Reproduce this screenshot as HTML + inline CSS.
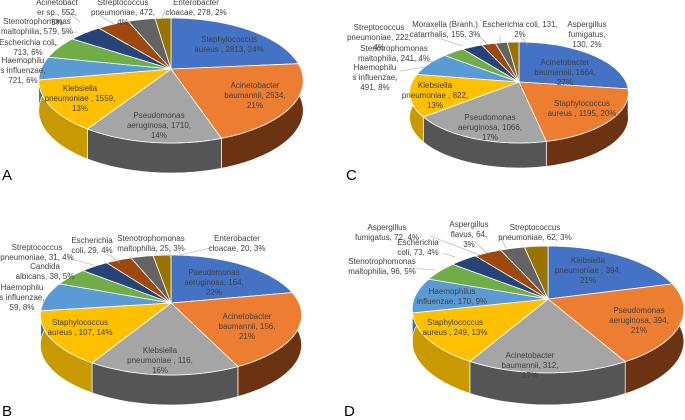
<!DOCTYPE html>
<html><head><meta charset="utf-8"><style>
html,body{margin:0;padding:0;background:#fff;}
svg{display:block;font-family:"Liberation Sans",sans-serif;}
.l{font-size:8px;fill:#404040;text-anchor:middle;}
.p{font-size:15px;fill:#000;}
</style></head><body>
<svg id="fig" width="685" height="420" viewBox="0 0 685 420">
<g id="pies"></g>
<g id="leaders" stroke="#a6a6a6" stroke-width="0.6" fill="none">
<line x1="68" y1="12" x2="80" y2="22"/><line x1="98" y1="14" x2="115" y2="25"/><line x1="165" y1="10" x2="162" y2="18"/>
<line x1="63" y1="33" x2="78" y2="32"/><line x1="52" y1="44" x2="58" y2="46"/>
<line x1="438" y1="38" x2="463" y2="46"/><line x1="480" y1="37" x2="488" y2="45"/><line x1="500" y1="36" x2="500" y2="43"/><line x1="520" y1="36" x2="528" y2="45"/>
<line x1="405" y1="60" x2="440" y2="62"/><line x1="400" y1="71" x2="425" y2="67"/>
<line x1="68" y1="258" x2="93" y2="265"/><line x1="68" y1="272" x2="70" y2="275"/><line x1="110" y1="255" x2="120" y2="263"/><line x1="170" y1="250" x2="170" y2="258"/><line x1="215" y1="247" x2="180" y2="255"/>
<line x1="430" y1="236" x2="480" y2="255"/><line x1="443" y1="253" x2="455" y2="257"/><line x1="474" y1="241" x2="487" y2="253"/><line x1="500" y1="236" x2="506" y2="248"/><line x1="410" y1="268" x2="436" y2="270"/>
</g>
<g id="labels">
<text class="l" x="229" y="42"><tspan x="229">Staphylococcus</tspan><tspan x="229" dy="10">aureus , 2813, 24%</tspan></text>
<text class="l" x="255" y="88"><tspan x="255">Acinetobacter</tspan><tspan x="255" dy="10">baumannii, 2534,</tspan><tspan x="255" dy="10">21%</tspan></text>
<text class="l" x="159" y="118"><tspan x="159">Pseudomonas</tspan><tspan x="159" dy="10">aeruginosa, 1710,</tspan><tspan x="159" dy="10">14%</tspan></text>
<text class="l" x="80" y="91"><tspan x="80">Klebsiella</tspan><tspan x="80" dy="10">pneumoniae , 1559,</tspan><tspan x="80" dy="10">13%</tspan></text>
<text class="l" x="23" y="63"><tspan x="23">Haemophilu</tspan><tspan x="23" dy="10">s influenzae,</tspan><tspan x="23" dy="10">721, 6%</tspan></text>
<text class="l" x="28" y="45"><tspan x="28">Escherichia coli,</tspan><tspan x="28" dy="10">713, 6%</tspan></text>
<text class="l" x="37" y="24"><tspan x="37">Stenotrophomonas</tspan><tspan x="37" dy="10">maltophilia, 579, 5%</tspan></text>
<text class="l" x="57" y="5"><tspan x="57">Acinetobact</tspan><tspan x="57" dy="10">er sp., 552,</tspan><tspan x="57" dy="10">5%</tspan></text>
<text class="l" x="123" y="5"><tspan x="123">Streptococcus</tspan><tspan x="123" dy="10">pneumoniae, 472,</tspan><tspan x="123" dy="10">4%</tspan></text>
<text class="l" x="196" y="5"><tspan x="196">Enterobacter</tspan><tspan x="196" dy="10">cloacae, 278, 2%</tspan></text>

<text class="l" x="565" y="65"><tspan x="565">Acinetobacter</tspan><tspan x="565" dy="10">baumannii, 1664,</tspan><tspan x="565" dy="10">27%</tspan></text>
<text class="l" x="582" y="106"><tspan x="582">Staphylococcus</tspan><tspan x="582" dy="10">aureus , 1195, 20%</tspan></text>
<text class="l" x="490" y="120"><tspan x="490">Pseudomonas</tspan><tspan x="490" dy="10">aeruginosa, 1066,</tspan><tspan x="490" dy="10">17%</tspan></text>
<text class="l" x="435" y="88"><tspan x="435">Klebsiella</tspan><tspan x="435" dy="10">pneumoniae , 822,</tspan><tspan x="435" dy="10">13%</tspan></text>
<text class="l" x="375" y="70"><tspan x="375">Haemophilu</tspan><tspan x="375" dy="10">s influenzae,</tspan><tspan x="375" dy="10">491, 8%</tspan></text>
<text class="l" x="394" y="51"><tspan x="394">Stenotrophomonas</tspan><tspan x="394" dy="10">maltophilia, 241, 4%</tspan></text>
<text class="l" x="379" y="30"><tspan x="379">Streptococcus</tspan><tspan x="379" dy="10">pneumoniae, 222,</tspan><tspan x="379" dy="10">4%</tspan></text>
<text class="l" x="445" y="27"><tspan x="445">Moraxella (Branh.)</tspan><tspan x="445" dy="10">catarrhalis, 155, 3%</tspan></text>
<text class="l" x="520" y="27"><tspan x="520">Escherichia coli, 131,</tspan><tspan x="520" dy="10">2%</tspan></text>
<text class="l" x="587" y="27"><tspan x="587">Aspergillus</tspan><tspan x="587" dy="10">fumigatus,</tspan><tspan x="587" dy="10">130, 2%</tspan></text>

<text class="l" x="214" y="275"><tspan x="214">Pseudomonas</tspan><tspan x="214" dy="10">aeruginosa, 164,</tspan><tspan x="214" dy="10">22%</tspan></text>
<text class="l" x="247" y="319"><tspan x="247">Acinetobacter</tspan><tspan x="247" dy="10">baumannii, 156,</tspan><tspan x="247" dy="10">21%</tspan></text>
<text class="l" x="160" y="353"><tspan x="160">Klebsiella</tspan><tspan x="160" dy="10">pneumoniae , 116,</tspan><tspan x="160" dy="10">16%</tspan></text>
<text class="l" x="80" y="325"><tspan x="80">Staphylococcus</tspan><tspan x="80" dy="10">aureus , 107, 14%</tspan></text>
<text class="l" x="22" y="290"><tspan x="22">Haemophilu</tspan><tspan x="22" dy="10">s influenzae,</tspan><tspan x="22" dy="10">59, 8%</tspan></text>
<text class="l" x="45" y="269"><tspan x="45">Candida</tspan><tspan x="45" dy="10">albicans, 38, 5%</tspan></text>
<text class="l" x="37" y="250"><tspan x="37">Streptococcus</tspan><tspan x="37" dy="10">pneumoniae, 31, 4%</tspan></text>
<text class="l" x="92" y="243"><tspan x="92">Escherichia</tspan><tspan x="92" dy="10">coli, 29, 4%</tspan></text>
<text class="l" x="151" y="241"><tspan x="151">Stenotrophomonas</tspan><tspan x="151" dy="10">maltophilia, 25, 3%</tspan></text>
<text class="l" x="237" y="241"><tspan x="237">Enterobacter</tspan><tspan x="237" dy="10">cloacae, 20, 3%</tspan></text>

<text class="l" x="588" y="263"><tspan x="588">Klebsiella</tspan><tspan x="588" dy="10">pneumoniae , 394,</tspan><tspan x="588" dy="10">21%</tspan></text>
<text class="l" x="639" y="313"><tspan x="639">Pseudomonas</tspan><tspan x="639" dy="10">aeruginosa, 394,</tspan><tspan x="639" dy="10">21%</tspan></text>
<text class="l" x="530" y="358"><tspan x="530">Acinetobacter</tspan><tspan x="530" dy="10">baumannii, 312,</tspan><tspan x="530" dy="10">17%</tspan></text>
<text class="l" x="455" y="325"><tspan x="455">Staphylococcus</tspan><tspan x="455" dy="10">aureus , 249, 13%</tspan></text>
<text class="l" x="452" y="294"><tspan x="452">Haemophilus</tspan><tspan x="452" dy="10">influenzae, 170, 9%</tspan></text>
<text class="l" x="382" y="264"><tspan x="382">Stenotrophomonas</tspan><tspan x="382" dy="10">maltophilia, 96, 5%</tspan></text>
<text class="l" x="418" y="245"><tspan x="418">Escherichia</tspan><tspan x="418" dy="10">coli, 73, 4%</tspan></text>
<text class="l" x="387" y="230"><tspan x="387">Aspergillus</tspan><tspan x="387" dy="10">fumigatus, 72, 4%</tspan></text>
<text class="l" x="469" y="227"><tspan x="469">Aspergillus</tspan><tspan x="469" dy="10">flavus, 64,</tspan><tspan x="469" dy="10">3%</tspan></text>
<text class="l" x="535" y="230"><tspan x="535">Streptococcus</tspan><tspan x="535" dy="10">pneumoniae, 62, 3%</tspan></text>
</g>
<text class="p" x="2" y="180">A</text>
<text class="p" x="346" y="180">C</text>
<text class="p" x="2" y="416">B</text>
<text class="p" x="344" y="416">D</text>
</svg>
<script>
const valuesA = [2813, 2534, 1710, 1559, 721, 713, 579, 552, 472, 278];
const valuesB = [164, 156, 116, 107, 59, 38, 31, 29, 25, 20];
const valuesC = [1664, 1195, 1066, 822, 491, 241, 222, 155, 131, 130];
const valuesD = [394, 394, 312, 249, 170, 96, 73, 72, 64, 62];
const colors = ['#4472C4','#ED7D31','#A5A5A5','#FFC000','#5B9BD5','#70AD47','#264478','#9E480E','#636363','#997300'];
const sideColors = ['#2c4d8a','#6b3312','#555555','#c99a00','#3a6f9e','#4a7a2c','#182d50','#6a300a','#404040','#6b5100'];
const layouts = [
  {name:'a', vals:valuesA, cx:171, cy:69, rx:130, h:60.4, k:0.184, d:30},
  {name:'b', vals:valuesB, cx:171, cy:303, rx:128, h:57.6, k:0.2, d:30},
  {name:'c', vals:valuesC, cx:519, cy:82, rx:107, h:48.3, k:0.208, d:25},
  {name:'d', vals:valuesD, cx:548, cy:299, rx:134, h:61.7, k:0.165, d:32}
];
const NS = 'http://www.w3.org/2000/svg';
const root = document.getElementById('pies');
function pt(L, a, dy){
  const u = Math.sin(a), v = -Math.cos(a);
  const w = 1 - L.k*v;
  return [L.cx + L.rx*u/w, L.cy + L.h*v/w + (dy||0)];
}
layouts.forEach(L => {
  const g = document.createElementNS(NS,'g');
  
  
  root.appendChild(g);
  const total = L.vals.reduce((s,v)=>s+v,0);
  let acc = 0;
  const slices = L.vals.map(v => { const a1 = acc/total*2*Math.PI; acc += v; return [a1, acc/total*2*Math.PI]; });
  const lo0 = Math.PI/2 - 0.2, hi0 = 3*Math.PI/2 + 0.2;
  slices.forEach((s,i) => {
    const lo = Math.max(s[0], lo0), hi = Math.min(s[1], hi0);
    if (hi <= lo) return;
    let dd = '';
    const n = 30;
    for (let k=0;k<=n;k++){ const p = pt(L, lo+(hi-lo)*k/n); dd += (k?'L':'M')+p[0].toFixed(1)+','+p[1].toFixed(1); }
    for (let k=n;k>=0;k--){ const p = pt(L, lo+(hi-lo)*k/n, L.d); dd += 'L'+p[0].toFixed(1)+','+p[1].toFixed(1); }
    const path = document.createElementNS(NS,'path');
    path.setAttribute('d', dd+'Z');
    path.setAttribute('fill', sideColors[i]);
    path.setAttribute('stroke', '#fff');
    path.setAttribute('stroke-width', '0.7');
    
    
    g.appendChild(path);
  });
  slices.forEach((s,i) => {
    let dd = 'M'+L.cx+','+L.cy;
    const n = Math.max(4, Math.ceil((s[1]-s[0])*30));
    for (let k=0;k<=n;k++){ const p = pt(L, s[0]+(s[1]-s[0])*k/n); dd += 'L'+p[0].toFixed(1)+','+p[1].toFixed(1); }
    const path = document.createElementNS(NS,'path');
    path.setAttribute('d', dd+'Z');
    path.setAttribute('fill', colors[i]);
    path.setAttribute('stroke', '#fff');
    path.setAttribute('stroke-width', '0.8');
    
    
    g.appendChild(path);
  });
});
</script>
</body></html>
